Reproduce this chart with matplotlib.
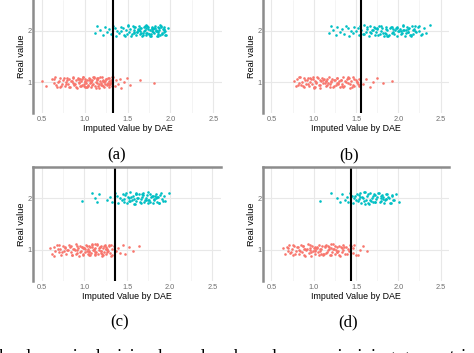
import matplotlib
matplotlib.use("Agg")
import matplotlib.pyplot as plt
import numpy as np

# imputed values per panel, class 1 (red) and class 2 (cyan)
A_RED = [0.50, 0.55, 0.62, 0.64, 0.66, 0.67, 0.69, 0.71, 0.72, 0.74, 0.75, 0.77, 0.78, 0.79,
         0.81, 0.82, 0.83, 0.85, 0.86, 0.87, 0.88, 0.90, 0.91, 0.92, 0.93, 0.94, 0.95, 0.96,
         0.97, 0.98, 0.99, 1.00, 1.01, 1.02, 1.03, 1.04, 1.05, 1.06, 1.07, 1.08, 1.09, 1.10,
         1.11, 1.12, 1.13, 1.14, 1.15, 1.16, 1.17, 1.18, 1.19, 1.20, 1.21, 1.22, 1.23, 1.24,
         1.25, 1.26, 1.27, 1.28, 1.29, 1.30, 1.31, 1.32, 1.33, 0.89, 0.97, 1.03, 1.08, 1.14,
         1.19, 1.24, 1.29, 1.32, 1.35, 1.37, 1.39, 1.41, 1.43, 1.46, 1.49, 1.53, 1.64, 1.81,
         0.65, 0.68, 0.70, 0.73, 0.76, 0.78, 0.80, 0.82, 0.84, 0.86, 0.88, 0.90, 0.92, 0.94,
         0.96, 0.98, 1.00, 1.02, 1.04, 1.06, 1.07, 1.09, 1.11, 1.13, 1.15, 1.17, 1.18, 1.20,
         1.22, 1.23, 1.25, 1.27, 1.28, 1.30, 1.31, 1.01, 1.05, 1.10, 1.16, 1.21, 1.26, 0.95, 0.99]
A_CYAN = [1.12, 1.15, 1.18, 1.21, 1.24, 1.26, 1.29, 1.31, 1.33, 1.35, 1.37, 1.38, 1.40, 1.42,
          1.43, 1.45, 1.46, 1.48, 1.49, 1.50, 1.52, 1.53, 1.54, 1.56, 1.57, 1.58, 1.59, 1.60,
          1.61, 1.62, 1.63, 1.64, 1.65, 1.66, 1.67, 1.68, 1.69, 1.70, 1.71, 1.72, 1.73, 1.74,
          1.75, 1.76, 1.77, 1.78, 1.79, 1.80, 1.81, 1.82, 1.83, 1.84, 1.85, 1.86, 1.87, 1.88,
          1.89, 1.90, 1.91, 1.92, 1.93, 1.94, 1.95, 1.97, 1.66, 1.71, 1.75, 1.79, 1.83, 1.87,
          1.47, 1.51, 1.55, 1.58, 1.61, 1.63, 1.65, 1.68, 1.70, 1.72, 1.74, 1.76, 1.78, 1.80,
          1.82, 1.84, 1.86, 1.88, 1.90, 1.92, 1.94, 1.62, 1.69, 1.73, 1.77, 1.81, 1.85, 1.89,
          1.93, 1.57]
B_RED = [0.77, 0.79, 0.80, 0.82, 0.83, 0.85, 0.86, 0.88, 0.89, 0.91, 0.92, 0.94, 0.95, 0.96,
         0.98, 0.99, 1.00, 1.02, 1.03, 1.04, 1.06, 1.07, 1.08, 1.10, 1.11, 1.12, 1.14, 1.15,
         1.16, 1.18, 1.19, 1.20, 1.22, 1.23, 1.24, 1.26, 1.27, 1.28, 1.30, 1.31, 1.32, 1.34,
         1.35, 1.36, 1.38, 1.39, 1.40, 1.42, 1.43, 1.44, 1.46, 1.47, 1.48, 1.50, 1.51, 1.52,
         1.54, 1.55, 0.93, 1.01, 1.09, 1.17, 1.25, 1.33, 1.41, 1.58, 1.62, 1.66, 1.70, 1.75,
         1.82, 1.93, 0.81, 0.84, 0.87, 0.90, 0.93, 0.97, 1.00, 1.03, 1.05, 1.08, 1.11, 1.13,
         1.16, 1.19, 1.21, 1.24, 1.27, 1.29, 1.32, 1.35, 1.37, 1.40, 1.43, 1.45, 1.48, 1.51,
         1.53, 0.99, 1.15, 1.29]
B_CYAN = [1.18, 1.20, 1.23, 1.26, 1.28, 1.31, 1.33, 1.36, 1.38, 1.40, 1.42, 1.44, 1.46, 1.48,
          1.50, 1.52, 1.54, 1.56, 1.58, 1.60, 1.62, 1.63, 1.65, 1.66, 1.68, 1.69, 1.71, 1.72,
          1.74, 1.75, 1.77, 1.78, 1.80, 1.81, 1.83, 1.84, 1.86, 1.87, 1.89, 1.90, 1.92, 1.93,
          1.95, 1.96, 1.98, 1.99, 2.01, 2.02, 2.04, 2.05, 2.07, 2.08, 2.10, 2.11, 2.13, 2.14,
          2.16, 2.17, 2.19, 2.21, 2.23, 2.25, 2.27, 2.30, 2.33, 2.38, 1.85, 1.94, 2.03, 2.09,
          2.15, 1.55, 1.59, 1.63, 1.67, 1.70, 1.73, 1.76, 1.79, 1.82, 1.85, 1.88, 1.91, 1.94,
          1.97, 2.00, 2.03, 2.06, 2.09, 2.12, 2.15, 2.18, 2.20, 2.24, 2.28, 1.75, 1.87, 1.99,
          2.06, 2.12, 2.20]
C_RED = [0.60, 0.62, 0.64, 0.66, 0.68, 0.70, 0.72, 0.73, 0.75, 0.76, 0.78, 0.79, 0.81, 0.82,
         0.84, 0.85, 0.86, 0.88, 0.89, 0.90, 0.91, 0.93, 0.94, 0.95, 0.96, 0.97, 0.98, 1.00,
         1.01, 1.02, 1.03, 1.04, 1.05, 1.06, 1.07, 1.08, 1.09, 1.10, 1.11, 1.12, 1.13, 1.14,
         1.15, 1.16, 1.17, 1.18, 1.19, 1.20, 1.21, 1.22, 1.23, 1.24, 1.25, 1.26, 1.27, 1.28,
         1.29, 1.30, 1.31, 1.32, 1.33, 0.92, 0.99, 1.04, 1.09, 1.13, 1.18, 1.22, 1.27, 1.35,
         1.37, 1.39, 1.42, 1.45, 1.48, 1.52, 1.57, 1.64, 0.65, 0.69, 0.71, 0.74, 0.77, 0.80,
         0.83, 0.86, 0.87, 0.90, 0.92, 0.95, 0.97, 0.99, 1.01, 1.03, 1.05, 1.07, 1.09, 1.11,
         1.13, 1.15, 1.17, 1.19, 1.21, 1.23, 1.25, 1.27, 1.29, 1.31, 1.00, 1.06, 1.12, 1.20, 1.26]
C_CYAN = [0.97, 1.09, 1.12, 1.15, 1.17, 1.27, 1.30, 1.33, 1.36, 1.38, 1.40, 1.42, 1.44, 1.45,
          1.47, 1.48, 1.50, 1.51, 1.53, 1.54, 1.56, 1.57, 1.58, 1.60, 1.61, 1.62, 1.64, 1.65,
          1.66, 1.68, 1.69, 1.70, 1.72, 1.73, 1.74, 1.76, 1.77, 1.78, 1.80, 1.81, 1.82, 1.84,
          1.85, 1.86, 1.88, 1.89, 1.91, 1.93, 1.95, 1.99, 1.52, 1.59, 1.67, 1.75, 1.83, 1.46,
          1.49, 1.52, 1.55, 1.58, 1.61, 1.63, 1.66, 1.69, 1.71, 1.74, 1.77, 1.79, 1.82, 1.85,
          1.87, 1.90, 1.92, 1.60, 1.72, 1.84]
D_RED = [0.64, 0.66, 0.68, 0.70, 0.71, 0.73, 0.74, 0.76, 0.77, 0.79, 0.80, 0.82, 0.83, 0.85,
         0.86, 0.87, 0.89, 0.90, 0.91, 0.93, 0.94, 0.95, 0.97, 0.98, 0.99, 1.01, 1.02, 1.03,
         1.05, 1.06, 1.07, 1.09, 1.10, 1.11, 1.13, 1.14, 1.15, 1.17, 1.18, 1.19, 1.21, 1.22,
         1.23, 1.25, 1.26, 1.27, 1.29, 1.30, 1.31, 1.33, 1.34, 1.35, 1.37, 1.38, 1.40, 1.42,
         1.44, 1.46, 1.48, 1.50, 0.88, 0.96, 1.04, 1.12, 1.20, 1.28, 1.36, 1.52, 1.55, 1.58,
         1.63, 0.69, 0.72, 0.75, 0.78, 0.81, 0.84, 0.87, 0.90, 0.92, 0.95, 0.97, 1.00, 1.02,
         1.04, 1.06, 1.08, 1.11, 1.13, 1.16, 1.18, 1.20, 1.23, 1.25, 1.28, 1.30, 1.32, 1.35,
         1.39, 1.43, 1.47, 1.01, 1.09, 1.17, 1.24]
D_CYAN = [1.08, 1.20, 1.28, 1.31, 1.34, 1.37, 1.39, 1.41, 1.43, 1.45, 1.47, 1.48, 1.50, 1.51,
          1.53, 1.54, 1.56, 1.57, 1.59, 1.60, 1.62, 1.63, 1.65, 1.66, 1.68, 1.69, 1.71, 1.72,
          1.74, 1.75, 1.77, 1.78, 1.80, 1.81, 1.83, 1.84, 1.86, 1.88, 1.90, 1.92, 1.94, 1.97,
          2.01, 1.55, 1.64, 1.73, 1.82, 1.49, 1.52, 1.55, 1.58, 1.61, 1.64, 1.67, 1.70, 1.73,
          1.76, 1.79, 1.82, 1.85, 1.87, 1.89, 1.91, 1.93, 1.95, 1.61, 1.70, 1.79, 1.86]

# vertical jitter (offset from the class value)
JITTER = [0.03, -0.08, 0.06, -0.02, 0.10, -0.05, 0.01, -0.10, 0.08, -0.03, 0.05, -0.07, 0.00,
          0.09, -0.04, 0.07, -0.09, 0.02, -0.01, 0.11, -0.06, 0.04, -0.11, 0.08, -0.02, 0.06,
          -0.08, 0.03, -0.05, 0.10, -0.03, 0.01, 0.07, -0.10, 0.05, -0.06, 0.09, -0.01, 0.02,
          -0.09, 0.04, -0.04, 0.11, -0.07, 0.00, 0.06, -0.02, 0.08, -0.11, 0.03, -0.05, 0.10,
          -0.08, 0.05, 0.01, -0.03, 0.07, -0.06, 0.09, -0.10, 0.02, -0.01, 0.04, -0.07, 0.11,
          -0.04, 0.06, -0.09, 0.00, 0.08, -0.02, 0.03, -0.06, 0.10, -0.08, 0.05, -0.03, 0.07,
          -0.11, 0.01, 0.09, -0.05, 0.04, -0.01, 0.06, -0.10, 0.02, -0.07, 0.08, -0.04,
          0.05, -0.09, 0.02, 0.08, -0.04, -0.10, 0.06, 0.00, -0.07, 0.10, 0.03, -0.02, -0.08,
          0.07, 0.01, -0.05, 0.09, -0.11, 0.04, -0.03, 0.11, -0.06, 0.02, -0.09, 0.06, -0.01,
          0.08, -0.04, 0.00, -0.10, 0.05, 0.10, -0.07, 0.03, -0.03, 0.07, -0.08, 0.01, 0.09, -0.05]

CUTS = [1.33, 1.56, 1.36, 1.44]
LABELS = ["(a)", "(b)", "(c)", "(d)"]
XTICKS = [0.5, 1.0, 1.5, 2.0, 2.5]
XMINOR = [0.75, 1.25, 1.75, 2.25]
YTICKS = [1, 2]

RED = "#F8766D"
CYAN = "#00BFC4"
SANS = "Liberation Sans"
SERIF = "Liberation Serif"

W, H = 474, 353
fig = plt.figure(figsize=(W / 100, H / 100), dpi=100)


def add_panel(left, top, right, bottom):
    return fig.add_axes([left / W, 1 - bottom / H, (right - left) / W, (bottom - top) / H])


def draw_panel(ax, red, cyan, cut, show_top):
    ax.set_xlim(0.4, 2.6)
    ax.set_ylim(0.4, 2.6)
    ax.set_xticks(XTICKS)
    ax.set_xticklabels([f"{t:.1f}" for t in XTICKS])
    ax.set_xticks(XMINOR, minor=True)
    ax.set_yticks(YTICKS)
    ax.grid(which="major", color="#e8e8e8", lw=0.8)
    ax.grid(which="minor", axis="x", color="#f0f0f0", lw=0.5)
    ax.set_axisbelow(True)

    ax.scatter(red, 1 + np.array(JITTER[:len(red)]), s=3.5, color=RED, lw=0)
    ax.scatter(cyan, 2 + np.array(JITTER[::-1][:len(cyan)]), s=3.5, color=CYAN, lw=0)
    ax.axvline(cut, color="black", lw=1.5)

    for side in ["right", "bottom"]:
        ax.spines[side].set_visible(False)
    ax.spines["left"].set_color("#8c8c8c")
    ax.spines["left"].set_linewidth(1.8)
    ax.spines["top"].set_color("#8c8c8c")
    ax.spines["top"].set_linewidth(1.8)
    ax.spines["top"].set_visible(show_top)

    ax.tick_params(which="both", length=0, labelsize=5.3, labelcolor="#6e6e6e", pad=2)
    ax.tick_params(axis="y", pad=1)
    for lab in ax.get_xticklabels() + ax.get_yticklabels():
        lab.set_family(SANS)
    ax.set_xlabel("Imputed Value by DAE", fontsize=6.4, family=SANS, labelpad=1)
    ax.set_ylabel("Real value", fontsize=6.6, family=SANS, labelpad=1)


clouds = [(A_RED, A_CYAN), (B_RED, B_CYAN), (C_RED, C_CYAN), (D_RED, D_CYAN)]
boxes = [(33, 0, 222, 113), (263, 0, 449, 113), (33, 167, 221, 281), (263, 167, 449, 281)]
caption_pos = [(117, 155), (349, 155), (120, 322), (348, 322)]

for i in range(4):
    ax = add_panel(*boxes[i])
    draw_panel(ax, clouds[i][0], clouds[i][1], CUTS[i], show_top=(i >= 2))
    cx, cy = caption_pos[i]
    fig.text(cx / W, 1 - cy / H, LABELS[i], fontsize=12, family=SERIF,
             ha="center", va="center")

# caption line, cropped by the lower edge as in the source figure
fig.text(-1 / W, 1 - 362 / H, "he dynamic decision boundary based on maximizing geometric",
         fontsize=13.5, family=SERIF, ha="left", va="baseline")

fig.savefig("out.png", dpi=100)
